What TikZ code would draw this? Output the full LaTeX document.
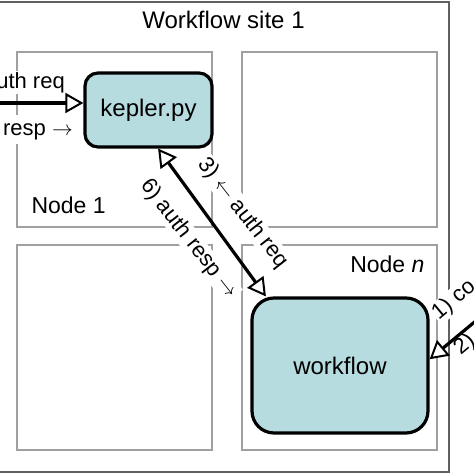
\documentclass[tikz,border=0pt]{standalone}
\usepackage{fontspec}
\setmainfont{Liberation Sans}
\usepackage{tikz}
\usetikzlibrary{arrows.meta,calc,positioning}
\definecolor{WfFill}{HTML}{B7DCE0}
\definecolor{FrameGray}{HTML}{A0A0A0}
\definecolor{SiteGray}{HTML}{606060}
\newcommand{\NodeFrame}[4]{%
  \draw[FrameGray,line width=1.1pt] (#1,#2) rectangle (#3,#4);}
\tikzset{wftip/.tip={Triangle[fill=white,line width=2pt,length=18pt,width=20pt]}}

\begin{document}
\begin{tikzpicture}[x=1pt,y=-1pt,
  proc/.style={draw,line width=3.2pt,fill=WfFill,inner sep=0pt,font=\fontsize{24}{28}\selectfont},
  lbl/.style={font=\fontsize{22}{26}\selectfont,fill=white,inner sep=1pt},
  msg/.style={line width=3.2pt}]
  \useasboundingbox (0,0) rectangle (474,474);
  \clip (0,0) rectangle (474,474);
  \draw[SiteGray,line width=2pt] (-20,1.5) rectangle (449,472);
  \NodeFrame{17}{52}{212}{227}
  \NodeFrame{242}{52}{437}{227}
  \NodeFrame{17}{245}{212}{450}
  \NodeFrame{242}{245}{437}{450}
  \node[font=\fontsize{24}{28}\selectfont,anchor=base] (site) at (223.5,28) {Workflow site 1};
  \node[font=\fontsize{23}{27}\selectfont,anchor=base west] (nodeone) at (28,213) {Node 1};
  \node[font=\fontsize{23}{27}\selectfont,anchor=base east] (noden) at (428,272) {Node \textit{n}};
  \node[lbl,anchor=base east] (reqin) at (66,88) {auth req};
  \node[lbl,anchor=base east,inner ysep=4pt] (respin) at (74,135) {auth resp $\rightarrow$};
  \node[lbl,rotate=-52] (reqlbl) at (243,213) {3) $\leftarrow$ auth req};
  \node[lbl,rotate=-52] (resplbl) at (189,239) {6) auth resp $\rightarrow$};
  \node[lbl,rotate=40,anchor=base west] (conlbl) at (438,321) {1) co};
  \node[lbl,rotate=40,anchor=base west] (nextlbl) at (460,356) {2)};
  \node[proc,rounded corners=13pt,minimum width=127pt,minimum height=74pt] (kepler) at (148.5,110) {kepler.py};
  \node[proc,rounded corners=22pt,minimum width=176pt,minimum height=135pt] (workflow) at (340,365.5) {workflow};
  \coordinate (lin) at (-10,103);
  \coordinate (rin) at (495,305);
  \draw[msg,-wftip] (lin) -- (lin -| kepler.west);
  \draw[msg,wftip-wftip] (kepler.-76) -- (workflow.137);
  \draw[msg,-wftip] (rin) -- (workflow.4);
\end{tikzpicture}
\end{document}
